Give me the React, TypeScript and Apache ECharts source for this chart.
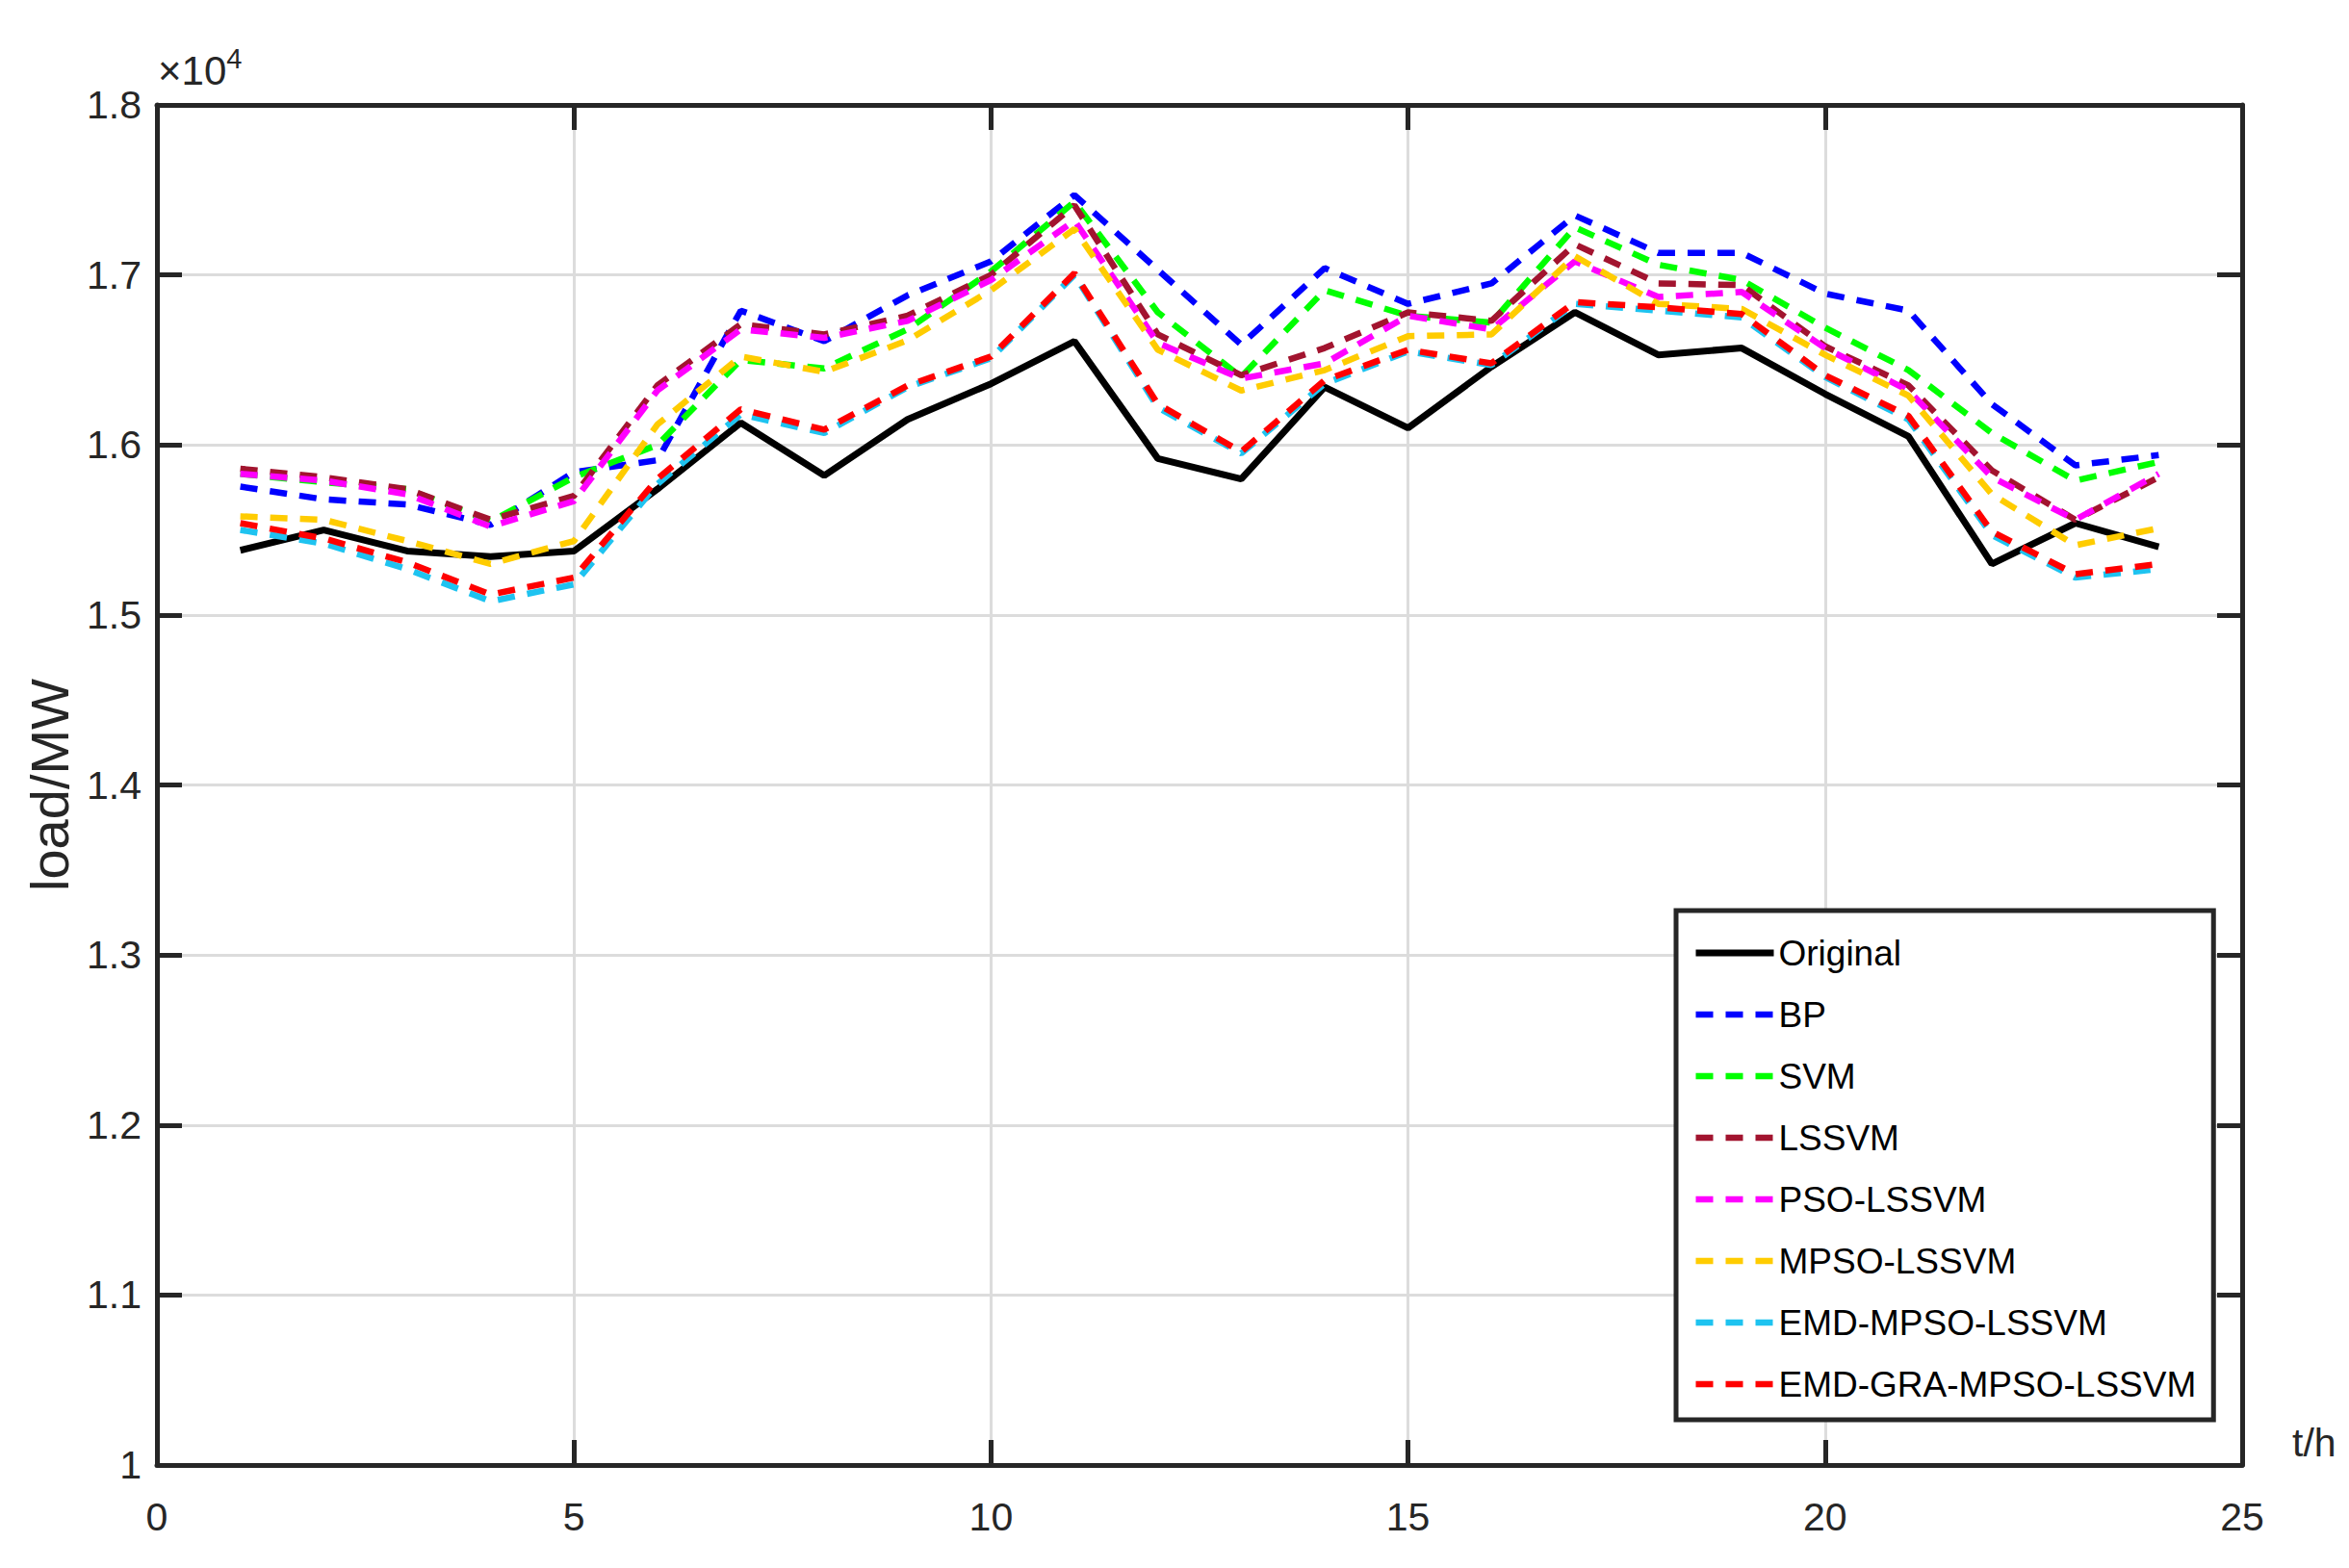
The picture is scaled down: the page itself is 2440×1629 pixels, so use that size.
import React, { useEffect, useRef } from "react";
import * as echarts from "echarts";

const hours = [1, 2, 3, 4, 5, 6, 7, 8, 9, 10, 11, 12, 13, 14, 15, 16, 17, 18, 19, 20, 21, 22, 23, 24];

const original = [15380, 15500, 15376, 15343, 15376, 15740, 16130, 15820, 16150, 16360, 16610, 15920, 15800, 16340, 16100, 16460, 16780, 16530, 16570, 16300, 16050, 15300, 15540, 15400];
const bp = [15755, 15680, 15650, 15530, 15840, 15910, 16790, 16610, 16880, 17080, 17470, 17030, 16590, 17040, 16830, 16950, 17350, 17130, 17130, 16890, 16790, 16240, 15880, 15940];
const svm = [15830, 15780, 15740, 15550, 15810, 16000, 16500, 16450, 16680, 17020, 17430, 16780, 16400, 16910, 16760, 16720, 17280, 17060, 16970, 16690, 16440, 16070, 15790, 15900];
const lssvm = [15860, 15810, 15740, 15560, 15700, 16350, 16710, 16650, 16760, 17000, 17410, 16650, 16410, 16570, 16780, 16730, 17180, 16950, 16940, 16580, 16350, 15850, 15560, 15810];
const psoLssvm = [15830, 15790, 15710, 15520, 15670, 16320, 16680, 16630, 16730, 16970, 17320, 16600, 16390, 16480, 16760, 16680, 17080, 16870, 16900, 16570, 16320, 15810, 15560, 15830];
const mpsoLssvm = [15580, 15560, 15435, 15300, 15435, 16120, 16520, 16430, 16615, 16910, 17270, 16560, 16320, 16440, 16640, 16650, 17110, 16830, 16800, 16530, 16290, 15710, 15410, 15510];
const emdMpso = [15500, 15420, 15270, 15080, 15180, 15770, 16180, 16070, 16340, 16510, 17000, 16220, 15950, 16360, 16550, 16470, 16830, 16790, 16750, 16400, 16150, 15470, 15220, 15270];
const emdGraMpso = [15540, 15450, 15310, 15120, 15220, 15800, 16210, 16090, 16350, 16520, 17010, 16240, 15960, 16380, 16560, 16480, 16840, 16810, 16770, 16410, 16170, 15490, 15240, 15300];

const seriesNames = ["Original", "BP", "SVM", "LSSVM", "PSO-LSSVM", "MPSO-LSSVM", "EMD-MPSO-LSSVM", "EMD-GRA-MPSO-LSSVM"];
const seriesValues = [original, bp, svm, lssvm, psoLssvm, mpsoLssvm, emdMpso, emdGraMpso];
const seriesColors = ["#000000", "#0000ff", "#00ff00", "#a2142f", "#ff00ff", "#ffcc00", "#1ec3f0", "#ff0000"];

const yTicks = [10000, 18000, 1000];
const xTicks = [0, 25, 5];

const FONT = "'Liberation Sans', Arial, Helvetica, sans-serif";
const AX = "#262626";

export default function App() {
  const ref = useRef<HTMLDivElement>(null);
  useEffect(() => {
    document.body.style.margin = "0";
    if (!ref.current) return;
    const chart = echarts.init(ref.current, null, { renderer: "svg" });
    const series = seriesNames.map((name, i) => ({
      name,
      type: "line",
      xAxisIndex: 0,
      yAxisIndex: 0,
      symbol: "circle",
      showSymbol: false,
      data: hours.map((h, k) => [h, seriesValues[i][k]]),
      lineStyle: {
        color: seriesColors[i],
        width: i === 0 ? 7 : 6.5,
        type: i === 0 ? "solid" : [18, 13],
        cap: "butt",
      },
      itemStyle: { color: seriesColors[i] },
      z: 2 + i,
    }));
    const axisCommon = {
      axisLine: { show: true, onZero: false, lineStyle: { color: AX, width: 5 } },
      axisTick: { show: true, inside: true, length: 26, lineStyle: { color: AX, width: 5 } },
    };
    chart.setOption({
      animation: false,
      backgroundColor: "#ffffff",
      grid: { left: 163, right: 111, top: 109, bottom: 107, containLabel: false },
      xAxis: [
        {
          type: "value",
          min: xTicks[0],
          max: xTicks[1],
          interval: xTicks[2],
          position: "bottom",
          ...axisCommon,
          axisLabel: { color: AX, fontSize: 41, fontFamily: FONT, margin: 33 },
          splitLine: { show: true, lineStyle: { color: "#dcdcdc", width: 3 } },
        },
        {
          type: "value",
          min: xTicks[0],
          max: xTicks[1],
          interval: xTicks[2],
          position: "top",
          ...axisCommon,
          axisLabel: { show: false },
          splitLine: { show: false },
        },
      ],
      yAxis: [
        {
          type: "value",
          min: yTicks[0],
          max: yTicks[1],
          interval: yTicks[2],
          position: "left",
          ...axisCommon,
          name: "load/MW",
          nameLocation: "middle",
          nameGap: 72,
          nameTextStyle: { color: AX, fontSize: 56, fontFamily: FONT },
          axisLabel: {
            color: AX,
            fontSize: 41,
            fontFamily: FONT,
            margin: 16,
            formatter: (v: number) => String(+(v / 10000).toFixed(1)),
          },
          splitLine: { show: true, lineStyle: { color: "#dcdcdc", width: 3 } },
        },
        {
          type: "value",
          min: yTicks[0],
          max: yTicks[1],
          interval: yTicks[2],
          position: "right",
          ...axisCommon,
          axisLabel: { show: false },
          splitLine: { show: false },
        },
      ],
      legend: {
        orient: "vertical",
        left: 1741,
        top: 946,
        data: seriesNames.map((name, i) => ({
          name,
          lineStyle: { width: i === 0 ? 7 : 6.5 },
        })),
        itemWidth: 81,
        itemHeight: 20,
        itemGap: 24,
        padding: [24, 18, 17, 17],
        backgroundColor: "#ffffff",
        borderColor: AX,
        borderWidth: 5,
        borderRadius: 0,
        itemStyle: { opacity: 0 },
        textStyle: { color: "#000000", fontSize: 37, fontFamily: FONT, lineHeight: 40 },
        selectedMode: false,
      },
      graphic: [
        {
          type: "text",
          left: 2381,
          top: 1478,
          style: { text: "t/h", fill: AX, font: `41px ${FONT}` },
        },
        {
          type: "text",
          left: 164,
          top: 46,
          style: {
            text: "{a|×10}{b|4}",
            rich: {
              a: { fontSize: 42, fontFamily: FONT, fill: AX, color: AX, verticalAlign: "bottom", lineHeight: 48 },
              b: { fontSize: 29, fontFamily: FONT, fill: AX, color: AX, verticalAlign: "top", lineHeight: 48 },
            },
          },
        },
      ],
      series,
    });
    return () => chart.dispose();
  }, []);
  return <div ref={ref} style={{ width: 2440, height: 1629 }} />;
}
